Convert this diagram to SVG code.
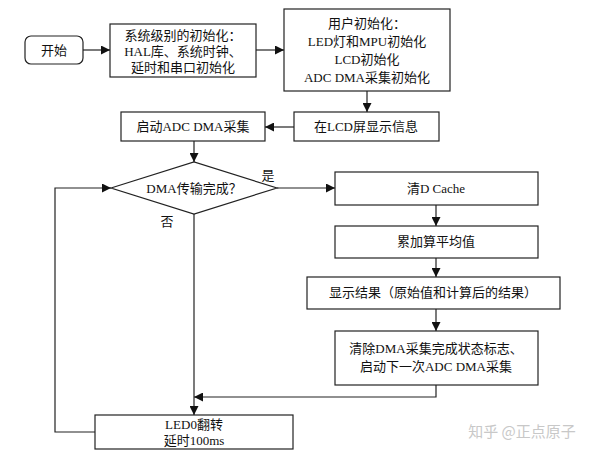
<svg xmlns="http://www.w3.org/2000/svg" width="600" height="456" viewBox="0 0 600 456">
<style>
.b{fill:#fff;stroke:#222;stroke-width:1.2}
text{font-family:"Liberation Serif","Noto Sans CJK SC",serif;font-size:13px;fill:#111;text-anchor:middle}
.c{fill:none;stroke:#222;stroke-width:1.2}
</style>
<defs><marker id="a" viewBox="0 0 10 10" refX="10" refY="5" markerWidth="9" markerHeight="9" markerUnits="userSpaceOnUse" orient="auto"><path d="M0,0L10,5L0,10z" fill="#111"/></marker></defs>
<rect width="600" height="456" fill="#fff"/>
<g id="start"><rect class="b" x="25" y="36" width="58" height="28" rx="6"/><text x="54" y="55">开始</text></g>
<g id="sys"><rect class="b" x="110" y="24" width="146" height="53"/><text x="183" y="40">系统级别的初始化：</text><text x="183" y="56">HAL库、系统时钟、</text><text x="183" y="72">延时和串口初始化</text></g>
<g id="user"><rect class="b" x="284" y="9" width="166" height="82"/><text x="367" y="28">用户初始化：</text><text x="367" y="46">LED灯和MPU初始化</text><text x="367" y="64">LCD初始化</text><text x="367" y="82">ADC DMA采集初始化</text></g>
<g id="lcd"><rect class="b" x="294" y="112" width="145" height="29"/><text x="366" y="131">在LCD屏显示信息</text></g>
<g id="adc"><rect class="b" x="121" y="112" width="144" height="29"/><text x="193" y="131">启动ADC DMA采集</text></g>
<g id="dec"><path class="b" d="M111,188L194,162L277,188L194,214z"/><text x="194" y="193">DMA传输完成？</text></g>
<g id="cache"><rect class="b" x="335" y="172" width="203" height="33"/><text x="436" y="193">清D Cache</text></g>
<g id="avg"><rect class="b" x="335" y="226" width="203" height="32"/><text x="436" y="246">累加算平均值</text></g>
<g id="show"><rect class="b" x="307" y="277" width="253" height="32"/><text x="433" y="297">显示结果（原始值和计算后的结果）</text></g>
<g id="clr"><rect class="b" x="335" y="331" width="203" height="54"/><text x="436" y="353">清除DMA采集完成状态标志、</text><text x="436" y="371">启动下一次ADC DMA采集</text></g>
<g id="led"><rect class="b" x="95" y="415" width="198" height="34"/><text x="194" y="429">LED0翻转</text><text x="194" y="445">延时100ms</text></g>
<g id="conn">
<path class="c" marker-end="url(#a)" d="M83,50H110"/>
<path class="c" marker-end="url(#a)" d="M256,50H284"/>
<path class="c" marker-end="url(#a)" d="M367,91V112"/>
<path class="c" marker-end="url(#a)" d="M294,127H265"/>
<path class="c" marker-end="url(#a)" d="M194,141V162"/>
<path class="c" marker-end="url(#a)" d="M277,188H335"/>
<path class="c" marker-end="url(#a)" d="M436,205V226"/>
<path class="c" marker-end="url(#a)" d="M436,258V277"/>
<path class="c" marker-end="url(#a)" d="M436,309V331"/>
<path class="c" marker-end="url(#a)" d="M436,385V397H194"/>
<path class="c" marker-end="url(#a)" d="M194,214V415"/>
<path class="c" marker-end="url(#a)" d="M95,432H55V188H111"/>
</g>
<text x="268" y="180">是</text>
<text x="167" y="226">否</text>
<text x="522" y="437" style="font-family:'Noto Sans CJK SC',sans-serif;font-size:15px;fill:#c8c8c8">知乎 @正点原子</text>
</svg>
